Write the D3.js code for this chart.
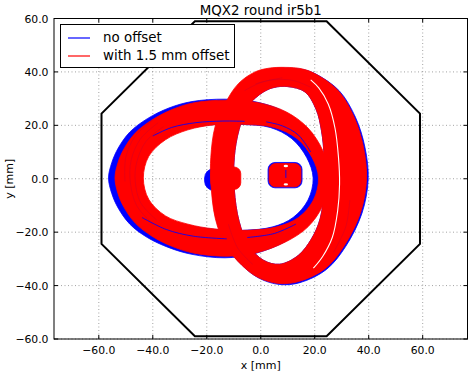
<!DOCTYPE html>
<html><head><meta charset="utf-8">
<script src="https://cdn.jsdelivr.net/npm/d3@7/dist/d3.min.js"></script>
<style>body{margin:0;background:#fff} text{font-family:"DejaVu Sans",sans-serif;fill:#000}</style>
</head><body><svg id="c" width="474" height="375"></svg>
<script>
// ---------------- data ----------------
const chartTitle = "MQX2 round ir5b1";
const xLabel = "x [mm]";
const yLabel = "y [mm]";
const xTicks = [-60, -40, -20, 0, 20, 40, 60];
const yTicks = [-60, -40, -20, 0, 20, 40, 60];
const seriesNames = ["no offset", "with 1.5 mm offset"];
const seriesColors = ["#0000ff", "#ff0000"];

// beam screen / aperture octagon [x, y] in mm
const aperture = [[-24.4,59],[24.4,59],[59,24.4],[59,-24.4],[24.4,-59],[-24.4,-59],[-59,-24.4],[-59,24.4]];

// ---- "no offset" envelope (blue) ----
const hRingOuterNoOff = [[-56.4,0.3],[-55.2,6],[-52.8,11.5],[-48.5,17.5],[-42,22.5],[-34,26.5],[-25.5,28.9],[-13.2,29.8],[-1.5,28.7],[8.5,25.2],[16.3,19.2],[21.8,10.6],[24.4,0.3],[21.8,-10],[16.3,-18],[8.5,-23.8],[-2.5,-28.1],[-13.2,-29.6],[-25.5,-28.3],[-34,-25.8],[-42,-22],[-48.5,-17],[-52.8,-11],[-55.2,-5.5]];
const hRingInnerNoOff = [[-45,0.3],[-43,8.4],[-36.8,14.6],[-28.5,18.3],[-18.5,20.2],[-6.5,20.3],[3.5,19.2],[11.5,15],[17,8],[19.4,0.3],[17.5,-8],[12,-14.5],[4.5,-18],[-6.5,-19.3],[-18.5,-18.8],[-28.5,-17],[-36.8,-13.9],[-43,-7.7]];
const vRingOuterNoOff = [[9.6,41.4],[15.6,40.9],[20.6,39.1],[29.1,32.9],[35.1,23],[38.6,11.8],[39.8,-0.3],[37.5,-12.9],[31.5,-25.3],[24.3,-34],[14.5,-38.9],[7,-39.6],[-0.5,-37.3],[-6.6,-32.7],[-12.6,-25.3],[-16.4,-15.3],[-18.1,-1.3],[-18,7.8],[-16.4,19.4],[-12.7,28],[-7.6,35.4],[-1.5,39.7],[3.5,41.1]];
const vRingInnerNoOff = [[10,34.5],[16.4,32.5],[20.5,26],[22.5,18],[23.5,8],[23.5,-4],[22,-15],[18.8,-22.5],[13.9,-28.7],[7,-32],[1,-30.5],[-4.5,-25],[-8,-16],[-9.8,-4],[-9.8,8],[-8,18.5],[-4.5,27.5],[1,32.5],[5,34.2]];
const blobLeftNoOff = [-20.8, -9.5, -4.4, 3.8, 3.5];   // x0, x1, y0, y1, corner
const blobRightNoOff = [2.7, 15.3, -3.4, 6.1, 2.6];
const thinLinesNoOff = [
  [[-40,16],[-33,19.2],[-24,21],[-14,21.6],[-6,21.5]],
  [[2,21.3],[8,19.8],[14,16.3],[18.5,10]],
  [[-44,-14.5],[-35,-19],[-25,-21.5],[-12.6,-22.5]],
  [[-5,-22],[5,-20.5],[13,-17]],
  [[9.3,0.3],[9.3,3.3]]
];

// ---- "with 1.5 mm offset" envelope (red) ----
const hRingOuterOff = [[-54,0.3],[-52.9,6],[-50.6,11.3],[-46.5,17.1],[-40.3,22],[-32.6,26],[-24.5,28.5],[-12.5,29.4],[-0.5,28.4],[9.5,25],[17.5,19],[23,10.5],[25.7,0.3],[23,-10],[17.5,-18],[9.5,-23.5],[-1.5,-27.7],[-12.5,-29],[-24.5,-27.9],[-32.6,-25.4],[-40.3,-21.5],[-46.5,-16.6],[-50.6,-10.8],[-52.9,-5.5]];
const hRingInnerOff = [[-43.5,0.3],[-41.5,8.4],[-35.3,14.6],[-27,18.3],[-17,20.2],[-5,20.3],[5,19.2],[13.5,15],[19,8],[21.4,0.3],[19.5,-8],[14,-14.5],[6,-18],[-5,-19.3],[-17,-18.8],[-27,-17],[-35.3,-13.9],[-41.5,-7.7]];
const vRingOuterOff = [[9,41.7],[15,41.2],[20,39.4],[28.5,33.2],[34.5,23.3],[38,12.1],[39.2,0],[37,-12.6],[31,-25],[23.8,-33.7],[14,-38.5],[6.5,-39.2],[-0.9,-37],[-7,-32.4],[-13,-25],[-16.8,-15],[-18.5,-1],[-18.5,8],[-16.9,19.6],[-13.2,28.2],[-8.2,35.7],[-2.1,40],[3,41.4]];
const vRingInnerOff = [[10,34.5],[16.4,32.5],[20.5,26],[22.5,18],[23.5,8],[23.5,-4],[22,-15],[18.8,-22.5],[13.9,-28.7],[7,-32],[1,-30.5],[-4.5,-25],[-8,-16],[-9.8,-4],[-9.8,8],[-8,18.5],[-4.5,27.5],[1,32.5],[5,34.2]];
const blobLeftOff = [-18.5, -7.4, -4, 4.4, 2.5];
const blobRightOff = [3.1, 14.9, -3.0, 5.7, 2.4];
// overlapping individual envelope traces (darker where many overlap)
const tracesOff = [
  [[-36,19.5],[-42.5,14],[-46,6],[-46.5,-1],[-44.5,-9],[-38.5,-15.5]],
  [[-38,21],[-44.5,15],[-48,7],[-48.3,-1.5],[-46,-10],[-40,-17]],
  [[-40,22],[-46.5,16],[-50,8],[-50.3,-1]],
  [[-2,35.5],[4,37],[12,36.8],[19,34]],
  [[-6,33],[0,36],[8,37.8]],
  [[-12,-17],[-8.5,-26],[-3,-32]],
  [[33,-8],[31.5,-18],[27,-27.5]]
];
// gap inside the vertical envelope (no particle coverage)
const vRingGap = [[18.5,37],[21.5,34],[25,28],[27.5,19],[28.8,8],[29.2,-2],[28.5,-12],[26.5,-22],[23,-29],[19.5,-33.5]];
const blobRightHoles = [[9.3,4.8],[9.3,-2.1]];

// ---------------- chart ----------------
const svg = d3.select("#c");
const x = d3.scaleLinear().domain([-76.6, 76.6]).range([54, 467.5]);
const y = d3.scaleLinear().domain([-60, 60]).range([339, 18.5]);
const X0 = x.range()[0], X1 = x.range()[1], Y0 = y.range()[1], Y1 = y.range()[0];
const fmt = d3.format(".1f");

// grid
const grid = svg.append("g").attr("stroke", "#8c8c8c").attr("stroke-width", 0.8).attr("stroke-dasharray", "1,2.5");
grid.selectAll(".gx").data(xTicks).join("line").attr("x1", d => x(d)).attr("x2", d => x(d)).attr("y1", Y0).attr("y2", Y1);
grid.selectAll(".gy").data(yTicks).join("line").attr("y1", d => y(d)).attr("y2", d => y(d)).attr("x1", X0).attr("x2", X1);

const plot = svg.append("g");
const closed = d3.line().x(d => x(d[0])).y(d => y(d[1])).curve(d3.curveCatmullRomClosed.alpha(0.5));
const open = d3.line().x(d => x(d[0])).y(d => y(d[1])).curve(d3.curveCatmullRom.alpha(0.5));

// aperture
plot.append("path").attr("d", d3.line().x(d => x(d[0])).y(d => y(d[1])).curve(d3.curveLinearClosed)(aperture))
  .attr("fill", "none").attr("stroke", "#000").attr("stroke-width", 2);

function band(outer, inner, color) {
  plot.append("path").attr("d", closed(outer) + closed(inner))
    .attr("fill", color).attr("fill-rule", "evenodd")
    .attr("stroke", color).attr("stroke-width", 0.8);
}
function blob(b, color) {
  const [x0, x1, y0, y1, c] = b;
  plot.append("rect").attr("x", x(x0)).attr("y", y(y1)).attr("width", x(x1) - x(x0)).attr("height", y(y0) - y(y1))
    .attr("rx", x(c) - x(0)).attr("ry", y(0) - y(c)).attr("fill", color).attr("stroke", color).attr("stroke-width", 0.8);
}

// no offset (blue)
band(hRingOuterNoOff, hRingInnerNoOff, seriesColors[0]);
band(vRingOuterNoOff, vRingInnerNoOff, seriesColors[0]);
blob(blobLeftNoOff, seriesColors[0]);
blob(blobRightNoOff, seriesColors[0]);
// with offset (red)
band(hRingOuterOff, hRingInnerOff, seriesColors[1]);
band(vRingOuterOff, vRingInnerOff, seriesColors[1]);
blob(blobLeftOff, seriesColors[1]);
blob(blobRightOff, seriesColors[1]);
tracesOff.forEach(l => plot.append("path").attr("d", open(l)).attr("fill", "none").attr("stroke", "#a0004a").attr("stroke-opacity", 0.35).attr("stroke-width", 0.7));
// visible no-offset traces through the red envelope
thinLinesNoOff.forEach(l => plot.append("path").attr("d", open(l)).attr("fill", "none").attr("stroke", seriesColors[0]).attr("stroke-opacity", 0.85).attr("stroke-width", 1));
plot.append("path").attr("d", open(vRingGap)).attr("fill", "none").attr("stroke", "#fff").attr("stroke-width", 1.1);
plot.selectAll(".hole").data(blobRightHoles).join("ellipse").attr("cx", d => x(d[0])).attr("cy", d => y(d[1])).attr("rx", 2.2).attr("ry", 1.2).attr("fill", "#fff");

// frame
svg.append("rect").attr("x", X0).attr("y", Y0).attr("width", X1 - X0).attr("height", Y1 - Y0).attr("fill", "none").attr("stroke", "#000").attr("stroke-width", 1);

// ticks (inward, all sides)
const tk = svg.append("g").attr("stroke", "#000").attr("stroke-width", 1);
xTicks.forEach(t => { tk.append("line").attr("x1", x(t)).attr("x2", x(t)).attr("y1", Y1).attr("y2", Y1 - 4);
  tk.append("line").attr("x1", x(t)).attr("x2", x(t)).attr("y1", Y0).attr("y2", Y0 + 4); });
yTicks.forEach(t => { tk.append("line").attr("y1", y(t)).attr("y2", y(t)).attr("x1", X0).attr("x2", X0 + 4);
  tk.append("line").attr("y1", y(t)).attr("y2", y(t)).attr("x1", X1).attr("x2", X1 - 4); });

// tick labels
svg.selectAll(".xl").data(xTicks).join("text").attr("x", d => x(d)).attr("y", 354).attr("text-anchor", "middle")
  .attr("font-size", 10.8).text(d => fmt(d));
svg.selectAll(".yl").data(yTicks).join("text").attr("x", 48.5).attr("y", d => y(d) + 4).attr("text-anchor", "end")
  .attr("font-size", 10.8).text(d => fmt(d));
svg.append("text").attr("x", (X0 + X1) / 2).attr("y", 369).attr("text-anchor", "middle").attr("font-size", 11).text(xLabel);
svg.append("text").attr("transform", `translate(13,${(Y0 + Y1) / 2}) rotate(-90)`).attr("text-anchor", "middle").attr("font-size", 11).text(yLabel);
svg.append("text").attr("x", (X0 + X1) / 2).attr("y", 15).attr("text-anchor", "middle").attr("font-size", 13.4).text(chartTitle);

// legend
const lg = svg.append("g");
lg.append("rect").attr("x", 60.5).attr("y", 24.5).attr("width", 174).attr("height", 43).attr("fill", "#fff").attr("stroke", "#000").attr("stroke-width", 1);
seriesNames.forEach((n, i) => {
  const yy = 38 + i * 18;
  lg.append("line").attr("x1", 68).attr("x2", 90).attr("y1", yy).attr("y2", yy).attr("stroke", seriesColors[i]).attr("stroke-width", 1.2);
  lg.append("text").attr("x", 103).attr("y", yy + 4).attr("font-size", 13.4).text(n);
});
</script></body></html>
